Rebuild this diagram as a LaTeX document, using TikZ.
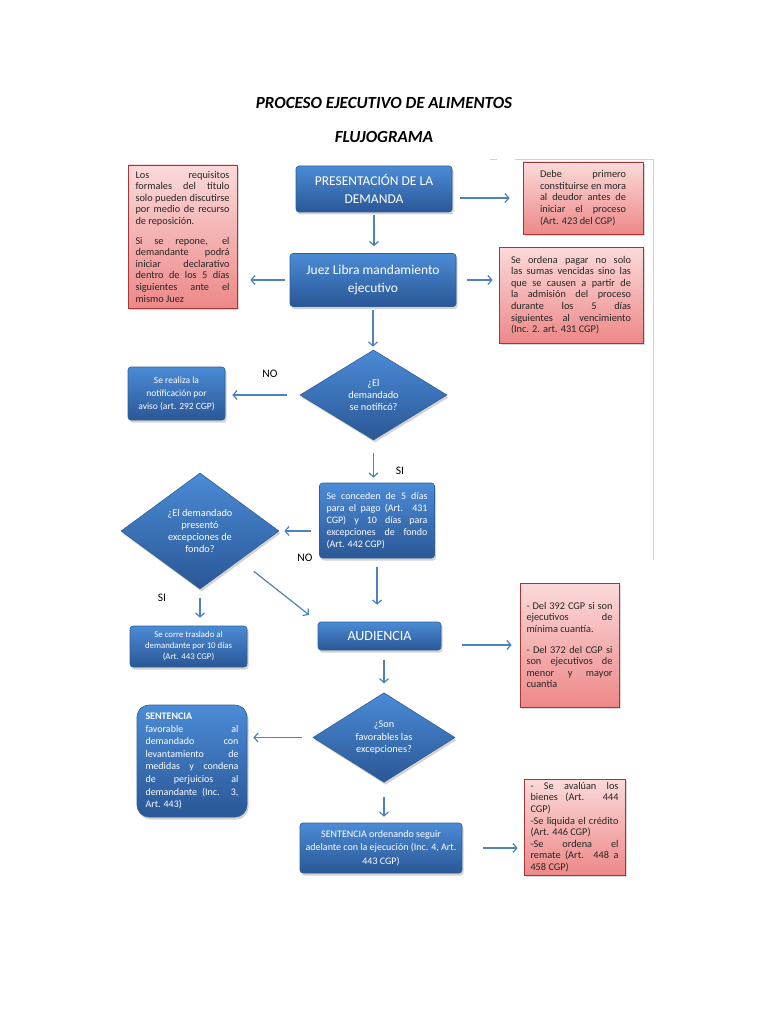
\documentclass[tikz,border=0pt]{standalone}
\usepackage{fontspec}
\setmainfont{Carlito}
\usetikzlibrary{shapes.geometric,arrows.meta,shadows,calc}
\definecolor{arrowblue}{HTML}{4F81BD}
\definecolor{boxtop}{HTML}{4B8BD6}
\definecolor{boxbot}{HTML}{2A5796}
\definecolor{boxline}{HTML}{2F5F98}
\definecolor{redtop}{HTML}{FBDADA}
\definecolor{redbot}{HTML}{EE8888}
\definecolor{redline}{HTML}{A83434}
\begin{document}
\begin{tikzpicture}[x=1pt,y=-1pt,
  every node/.style={inner sep=0pt},
  bluebox/.style={draw=boxline, line width=0.6pt, top color=boxtop, bottom color=boxbot,
    text=white, rounded corners=3pt,
    drop shadow={opacity=0.35, shadow xshift=1.5pt, shadow yshift=-2.5pt}, align=center},
  redbox/.style={draw=redline, line width=0.7pt, top color=redtop, bottom color=redbot,
    text=black!85, drop shadow={opacity=0.3, shadow xshift=1.5pt, shadow yshift=-2pt},
    align=justify, font={\fontsize{10.3}{11.6}\selectfont\parindent=0pt}},
  decision/.style={diamond, draw=boxline, line width=0.6pt, top color=boxtop, bottom color=boxbot,
    text=white, align=center, font={\fontsize{10.3}{12.3}\selectfont},
    drop shadow={opacity=0.35, shadow xshift=1.5pt, shadow yshift=-2.5pt}},
  big/.style={font={\fontsize{13.5}{18.5}\selectfont}},
  small/.style={font={\fontsize{10}{12}\selectfont\parindent=0pt}},
  arr/.style={draw=arrowblue, line width=1.2pt, -{Straight Barb[length=4pt,width=9pt]}},
  lbl/.style={font={\fontsize{11.5}{13}\selectfont}, text=black}
]
\useasboundingbox[fill=white] (0,0) rectangle (768,1024);

% title
\node[font={\fontsize{17}{20}\selectfont\bfseries\itshape}] (t1) at (384,103) {PROCESO EJECUTIVO DE ALIMENTOS};
\node[font={\fontsize{17}{20}\selectfont\bfseries\itshape}] (t2) at (384,137) {FLUJOGRAMA};

% faint frame lines
\draw[black!18, line width=0.8pt] (490,159) -- (497,159);
\draw[black!18, line width=0.8pt] (515,159) -- (653,159) -- (653,560);

% nodes
\node[bluebox, big, minimum width=156pt, minimum height=46pt] (pres) at (374,189) {PRESENTACIÓN DE LA\\DEMANDA};
\node[bluebox, big, minimum width=166pt, minimum height=53pt] (juez) at (373,280) {Juez Libra mandamiento\\ejecutivo};

\node[redbox, minimum width=109pt, minimum height=143pt, text width=94pt] (rL) at (182.5,236.5)
 {Los requisitos\linebreak formales del título\linebreak solo pueden discutirse\linebreak por medio de recurso\linebreak de reposición.\par\vskip 8pt
  Si se repone, el\linebreak demandante podrá\linebreak iniciar declarativo\linebreak dentro de los 5 días\linebreak siguientes ante el\linebreak mismo Juez};

\node[redbox, minimum width=120pt, minimum height=72pt, text width=86pt] (r1) at (583,198)
 {Debe primero\linebreak constituirse en mora\linebreak al deudor antes de\linebreak iniciar el proceso\linebreak (Art. 423 del CGP)};

\node[redbox, minimum width=144pt, minimum height=96pt, text width=120pt] (r2) at (571,295)
 {Se ordena pagar no solo\linebreak las sumas vencidas sino las\linebreak que se causen a partir de\linebreak la admisión del proceso\linebreak durante los 5 días\linebreak siguientes al vencimiento\linebreak (Inc. 2. art. 431 CGP)};

\node[decision, minimum width=147pt, minimum height=90pt] (d1) at (373.5,395) {¿El\\demandado\\se notificó?};

\node[bluebox, small, minimum width=97pt, minimum height=53pt, font={\fontsize{9.5}{13}\selectfont}] (notif) at (176.5,393.5) {Se realiza la\\notificación por\\aviso (art. 292 CGP)};

\node[bluebox, small, align=justify, minimum width=115pt, minimum height=75pt, text width=101pt] (conc) at (377,520.5)
 {Se conceden de 5 días\linebreak para el pago (Art. 431\linebreak CGP) y 10 días para\linebreak excepciones de fondo\linebreak (Art. 442 CGP)};

\node[decision, minimum width=158pt, minimum height=116pt] (d2) at (200,531) {¿El demandado\\presentó\\excepciones de\\fondo?};

\node[bluebox, minimum width=117pt, minimum height=41pt, font={\fontsize{8.8}{11}\selectfont}] (trasl) at (188.5,646.5) {Se corre traslado al\\demandante por 10 días\\(Art. 443 CGP)};

\node[bluebox, font={\fontsize{14}{17}\selectfont}, minimum width=123pt, minimum height=28pt] (aud) at (379.5,636) {AUDIENCIA};

\node[redbox, minimum width=99pt, minimum height=124pt, text width=86pt] (r3) at (569.5,645)
 {- Del 392 CGP si son\linebreak ejecutivos de\linebreak mínima cuantía.\par\vskip 9pt
  - Del 372 del CGP si\linebreak son ejecutivos de\linebreak menor y mayor\linebreak cuantía};

\node[decision, minimum width=142pt, minimum height=81pt] (d3) at (384,737.5) {¿Son\\favorables las\\excepciones?};

\node[bluebox, align=justify, rounded corners=12pt, minimum width=110pt, minimum height=112pt, text width=93pt,
  font={\fontsize{10}{12.6}\selectfont\parindent=0pt}] (sentL) at (192,761)
 {\textbf{SENTENCIA}\par favorable al\linebreak demandado con\linebreak levantamiento de\linebreak medidas y condena\linebreak de perjuicios al\linebreak demandante (Inc. 3,\linebreak Art. 443)};

\node[bluebox, font={\fontsize{10}{13.5}\selectfont}, minimum width=162pt, minimum height=50pt] (sent2) at (381,848) {SENTENCIA ordenando seguir\\adelante con la ejecución (Inc. 4, Art.\\443 CGP)};

\node[redbox, minimum width=101pt, minimum height=96pt, text width=88pt] (r4) at (574.5,827)
 {- Se avalúan los\linebreak bienes (Art. 444\linebreak CGP)\par -Se liquida el crédito\linebreak (Art. 446 CGP)\par -Se ordena el\linebreak remate (Art. 448 a\linebreak 458 CGP)};

% connectors
\draw[arr, shorten <=8pt, shorten >=13pt] (pres.east |- r1.west) -- (r1.west);
\draw[arr, shorten <=3pt, shorten >=7pt] (pres.south) -- (pres.south |- juez.north);
\draw[arr, shorten <=5pt, shorten >=13pt] (juez.west) -- (juez.west -| rL.east);
\draw[arr, shorten <=11pt, shorten >=6pt] (juez.east) -- (juez.east -| r2.west);
\draw[arr, shorten <=3pt, shorten >=3pt] (juez.south) -- (juez.south |- d1.north);
\draw[arr, shorten <=13pt, shorten >=7pt] (d1.west) -- (d1.west -| notif.east);
\draw[arr, shorten <=13pt, shorten >=5pt] (d1.south) -- (d1.south |- conc.north);
\draw[arr, shorten <=8pt, shorten >=5pt] (conc.west |- d2.east) -- (d2.east);
\draw[arr, shorten <=9pt, shorten >=17pt] (conc.south) -- (conc.south |- aud.north);
\draw[arr, shorten <=18pt, shorten >=11pt] (d2.south east) -- (aud.north west);
\draw[arr, shorten <=9pt, shorten >=8pt] (d2.south) -- (d2.south |- trasl.north);
\draw[arr, shorten <=21pt, shorten >=8pt] (aud.east |- r3.west) -- (r3.west);
\draw[arr, shorten <=10pt, shorten >=9pt] (aud.south -| d3.north) -- (d3.north);
\draw[arr, shorten <=11pt, shorten >=6pt] (d3.west) -- (d3.west -| sentL.east);
\draw[arr, shorten <=14pt, shorten >=6pt] (d3.south) -- (d3.south |- sent2.north);
\draw[arr, shorten <=21pt, shorten >=6pt] (sent2.east) -- (sent2.east -| r4.west);

% labels
\node[lbl] (no1) at (270,374) {NO};
\node[lbl] (si1) at (400,471) {SI};
\node[lbl] (no2) at (305,558) {NO};
\node[lbl] (si2) at (162,598) {SI};
\end{tikzpicture}
\end{document}
